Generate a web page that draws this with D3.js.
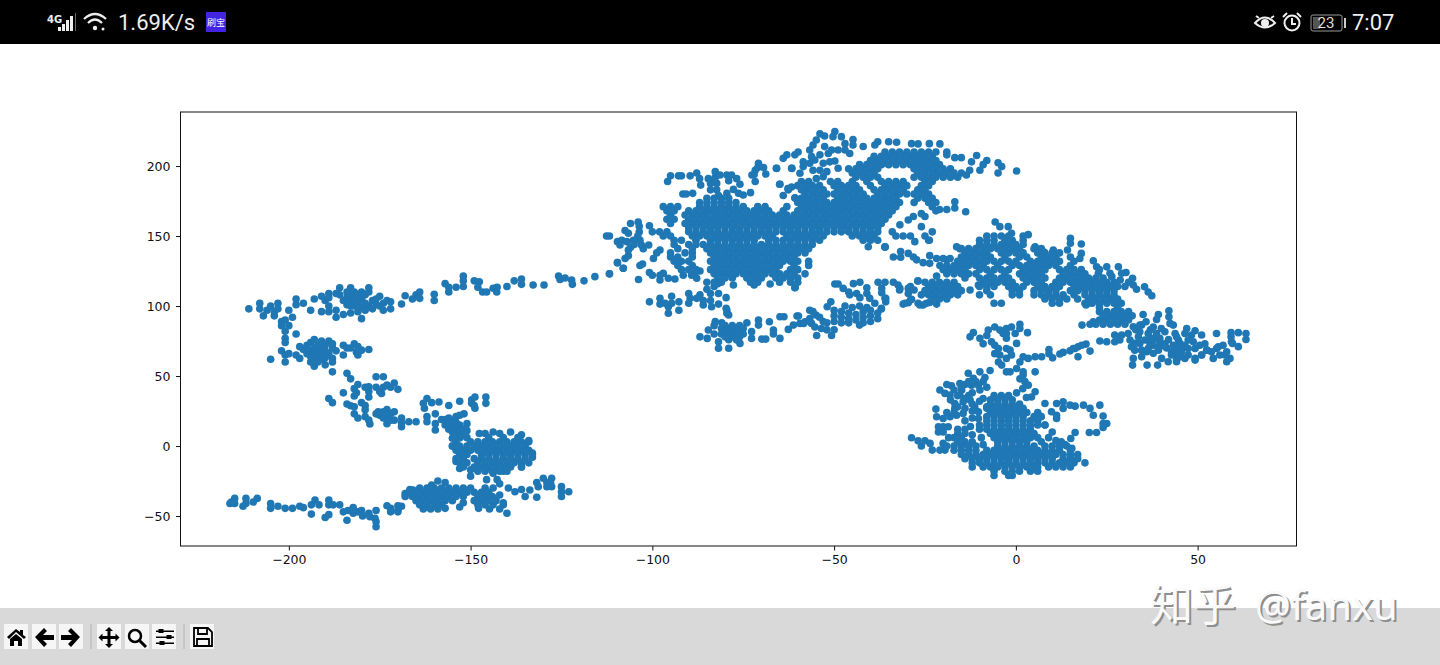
<!DOCTYPE html>
<html>
<head>
<meta charset="utf-8">
<script src="https://cdn.jsdelivr.net/npm/d3@7"></script>
<style>
  html, body { margin: 0; padding: 0; background: #fff; }
  svg { display: block; }
  text { font-family: "DejaVu Sans", sans-serif; }
</style>
</head>
<body>
<div id="chart"></div>
<script>
const xTicks = [-200, -150, -100, -50, 0, 50]
const yTicks = [-50, 0, 50, 100, 150, 200]

// scattered points, [x, y]
const leftTop = [[-211,98],[-208,102],[-208,98],[-207,93],[-206,97],[-205,100],[-204,96],[-204,93],[-203,102],[-203,98],[-200,97],[-199,92],[-201,90],[-202,89],[-200,86],[-202,86],[-201,82],[-198,80],[-201,77],[-201,74],[-198,105],[-198,101],[-196,102],[-194,97],[-193,105],[-191,107],[-191,96],[-190,104],[-189,109],[-189,106],[-189,100],[-189,96],[-187,109],[-187,97],[-187,92],[-186,113],[-185,94],[-183,95],[-183,113],[-178,113],[-175,107],[-180,91],[-181,96],[-186,108],[-185,104],[-184,110],[-184,106],[-184,101],[-183,108],[-183,103],[-182,110],[-182,105],[-182,100],[-181,108],[-181,102],[-180,110],[-180,105],[-180,99],[-179,108],[-179,102],[-178,110],[-178,100],[-177,104],[-176,101],[-175,100],[-174,102],[-174,97],[-173,104],[-172,98],[-172,103],[-179,97],[-177,98],[-176,105],[-181,105],[-183,100]]
const topStrand = [[-169,101.5],[-168,107.4],[-166,105],[-165,108],[-164,110],[-164,105.5],[-160,108.4],[-160,104],[-157,116],[-156,113.4],[-156,110],[-154,113.4],[-152,121.5],[-152,118],[-152,114],[-149,118],[-147.6,117.4],[-148,113.4],[-146.7,110],[-145.6,110],[-143.8,112.7],[-142.7,113.4],[-142.8,110],[-140,114],[-138,118],[-136,119.3],[-136,115.5],[-132.8,115],[-129.8,115],[-125.8,121.5],[-125.4,119],[-124,120],[-122.2,118.6],[-122,115.5],[-118.8,118],[-115.8,121],[-111.8,123],[-108,127],[-109.6,131]]
const leftMiddle = [[-205,62],[-202,68],[-201,65],[-201,60],[-200,66],[-198,65],[-197,62.6],[-197,71],[-193,57],[-190,58],[-188,53],[-188,62.6],[-188,60],[-187,68],[-185,72],[-185,65],[-184,70],[-182,73],[-181.4,67],[-181,65],[-180,68.5],[-178,69],[-183,70],[-181,71],[-196,69],[-195,66],[-195,72],[-194,60],[-194,64],[-194,68],[-194,74],[-193,62],[-193,66],[-193,70],[-193,76],[-192,60],[-192,64],[-192,68],[-192,72],[-191,62],[-191,66],[-191,70],[-191,75],[-190,63],[-190,68],[-190,72],[-189,75],[-189,66],[-188,70],[-188,73]]
const leftLower = [[-184,52],[-183,48],[-176,49.5],[-174,49.5],[-181,44],[-182,41],[-181.4,38],[-182,35.7],[-185,38],[-189,34],[-188,31],[-179,42],[-178,42.4],[-176,42],[-178,39],[-178,35],[-175,39],[-174,42],[-173,43.6],[-171,45],[-170,40.5],[-172,42],[-174.5,37.6],[-184,30],[-183,28.8],[-182,28],[-180,31],[-179,29],[-179,26],[-182,23],[-181,20],[-179,21],[-178,18.5],[-177.7,15.7],[-176,23],[-175.4,24.5],[-175,22],[-174,24.5],[-173,26],[-172.7,21],[-173,16],[-171,24.5],[-171,18.5],[-172,18.5],[-169,20],[-169,16.6],[-169,13.8],[-167,17.4],[-165,17.4],[-174,20],[-172,23]]
const midLeftCluster = [[-162,34],[-163,30.5],[-162.7,27],[-160.7,31],[-162,21],[-162,17.4],[-159.7,23],[-159.7,16],[-159.7,11.5],[-158.7,31.5],[-156,29],[-153,32],[-151.8,23],[-149.7,30.5],[-149.7,33],[-148.8,35],[-148.8,27],[-149,29],[-145.8,35],[-145.8,30.5],[-158,19],[-157,19],[-156,20],[-155,18],[-154,21],[-153,22],[-157,15],[-156,16],[-156,12],[-155,14],[-155,10],[-154,17],[-154,13],[-154,8],[-153,15],[-153,11],[-153,6],[-152,12],[-152,8],[-151,16],[-151,11],[-155,5.6],[-147.6,9],[-146,9],[-143.8,10],[-142,9],[-139,10],[-136,8],[-134,4],[-133,-5],[-133,-8],[-136,-15],[-141,-18],[-143.8,-19.5],[-150,-17],[-150,-21.5],[-153,-16],[-154,-11],[-155,0]]
const lowerStrand = [[-145.6,-24],[-142.7,-24],[-142,-27],[-143.8,-30],[-139.6,-30],[-137.8,-32.6],[-136,-31],[-133.7,-31.4],[-131.8,-26],[-130,-23],[-127.7,-23],[-129,-29],[-127.7,-29],[-129,-26],[-128,-26],[-131.4,-29],[-135,-36],[-131.8,-36.6],[-125,-29],[-125,-32.6],[-125,-36],[-123,-32.6],[-142,-35],[-141,-40.5],[-140,-48],[-157,-44.5],[-153,-43.5],[-152,-40.5],[-159,-25],[-157,-26],[-160.7,-27.8],[-147.8,-44.5],[-144.8,-45],[-142,-45],[-143.8,-42],[-172,-44.5],[-172,-47],[-170,-47],[-169,-43],[-168,-36],[-168,-34],[-166.7,-31],[-165.8,-31.5]]
const bottomLeft = [[-215.8,-40],[-214.9,-37.4],[-216.2,-41],[-214.9,-41],[-212.6,-43],[-211.8,-37.4],[-211.8,-41],[-209.8,-40],[-208.7,-37.4],[-205,-41],[-205,-44.5],[-203,-43],[-201,-44.5],[-199,-44.5],[-197,-43],[-196,-44],[-193.8,-42],[-193.8,-48.6],[-192.8,-38.6],[-191.7,-42],[-190,-51],[-189,-49],[-189,-38.6],[-189,-42],[-187.8,-42],[-186,-42],[-185,-47],[-184,-53],[-183.7,-46],[-182.3,-44],[-182.3,-48],[-180,-46],[-179.7,-50],[-177.7,-50.5],[-176,-46],[-176.3,-51.7],[-176,-57.6],[-176,-54],[-173,-42.6],[-170,-42.6],[-170,-46],[-181,-47],[-178,-48]]
const centerLeft = [[-112.6,150],[-111.8,150],[-111.8,123],[-109.6,131],[-108,127],[-107.5,134],[-106.6,136],[-103.8,119],[-103.4,129],[-102.7,130],[-100.8,124],[-100,122],[-99.7,134],[-97.9,140],[-98.8,138],[-106,159],[-103.9,160],[-100.8,157.4],[-107.5,154],[-106.6,152],[-103.6,157],[-103.6,153],[-109.6,146],[-108.4,147],[-107,146],[-105.2,147],[-108.9,143.6],[-106,142],[-103.4,147],[-103,143.6],[-102.5,141],[-101,143.6],[-106.6,140],[-104,150],[-105,144],[-95,193],[-95.8,189],[-92.8,193],[-92,193],[-89.6,193],[-87.8,195],[-87,191],[-86.7,186.4],[-91.6,180],[-90.7,180],[-88.9,180.5],[-84.6,191],[-82.7,196],[-82.7,192],[-81.4,193.6],[-79.5,193.6],[-78.2,193.6],[-76.8,191],[-75.9,187],[-79,189.5],[-84,187.6],[-82.3,187.6],[-82.3,183],[-81.8,179],[-77.7,183.3],[-76.3,180.5],[-75,179.3],[-73,181],[-79.5,180.5],[-84,183],[-83,190],[-71.7,197],[-70.8,202],[-69.4,199],[-68.8,194.3],[-72.6,193.6],[-71.7,189],[-65.8,198.3],[-61.6,198.3],[-64.9,187],[-64,179],[-62.6,183],[-61.7,185],[-60.7,177],[-72,194],[-71,199]]
const centerBelow = [[-97.9,122],[-97.9,118.6],[-97,123.3],[-95.6,119.8],[-93.8,119.3],[-91.5,122],[-89.2,122],[-88.3,123.3],[-87.8,119.8],[-86.9,125],[-90,109],[-89.6,105.5],[-90,102],[-87.8,105.5],[-86.9,108],[-86,104],[-84,109],[-81.8,109],[-86,100.7],[-83.7,99.5],[-81.8,101.4],[-79.7,106],[-79.7,98.4],[-79.5,94.8],[-84,104],[-85,112],[-83,114],[-85,117],[-82,116],[-100.8,103],[-97.9,105.5],[-94.7,107],[-97.9,101.4],[-96.5,102],[-95.6,99.5],[-95.6,94.8],[-94.7,102],[-92.7,103],[-92.7,97],[-77.7,115],[-72,115],[-67.6,115.7],[-60.7,113.4],[-58,123],[-57,129],[-60.8,113]]
const lowerArc = [[-82.7,89],[-80.9,88],[-79.5,97],[-79,93.6],[-74,88],[-70.8,90],[-70.8,86.4],[-67.8,88.8],[-64.9,92.4],[-63.8,92.4],[-60.2,92.9],[-59.8,92.9],[-86.9,78],[-84.6,82.9],[-84.9,76.9],[-81.8,74.5],[-81.8,69.8],[-79,69.8],[-75.9,73.3],[-76.8,75.7],[-72.7,81.7],[-72.7,76.9],[-69.9,76.4],[-68.8,76.4],[-66.7,82.9],[-66.7,80],[-64.9,76.9],[-62.6,83.3],[-61.2,86.4],[-59.4,87.6],[-58.4,87.6],[-58,88.8],[-81,84],[-81,80],[-80,86],[-80,82],[-80,78],[-79,84],[-79,80],[-79,76],[-78,86],[-78,82],[-78,78],[-77,84],[-77,80],[-76,86],[-76,82],[-76,78],[-75,84],[-75,80],[-83,86],[-83,80],[-56.7,97],[-55.8,96],[-55,93.6],[-56.7,91],[-56.2,87.6],[-55.3,85],[-54.8,79],[-53.5,84],[-53,89],[-52,83],[-50.7,79],[-50,83],[-51.9,99.5],[-50.9,103],[-43,86.4],[-37,97.9],[-38.8,102],[-50,89],[-50,93],[-50,97],[-48,88],[-48,92],[-48,96],[-47,100],[-46,88],[-46,91],[-46,95],[-45,99],[-44,90],[-44,94],[-43,100],[-42,88],[-42,92],[-42,96],[-41,99],[-40,89],[-40,93],[-40,97],[-38,91],[-38,95],[-54,92],[-52,88]]
const upperArc = [[-49.8,115.7],[-48.9,115.7],[-47.5,112.6],[-46,110],[-44.7,116],[-42.9,117],[-45.7,108],[-43.8,109],[-42.9,106],[-41,113],[-41,109],[-40.2,105.5],[-37.9,117],[-36,117],[-36.9,112.6],[-36.9,109.5],[-33.7,117],[-31.9,112.6],[-35.8,105.5],[-35.8,103],[-29.6,112.6],[-29.6,109],[-27,117.9],[-31,101.4],[-29.6,102.4],[-28.7,104.8],[-26.9,102],[-25.5,100.7],[-23.7,102.6],[-21.8,101.4],[-33.7,135],[-31.7,139],[-31.7,134.8],[-29.6,137.6],[-28.2,135],[-27.3,133],[-25.5,131],[-23.7,130.5],[-23.7,136],[-21.8,134],[-20,134],[-20.9,129],[-19,125.7],[-19,133],[-36,142],[-36,142.4],[-40.6,142.4],[-37,98.4],[-36,105.5],[-32.4,115],[-32,111.5],[-29,114],[-28,111.5],[-26.9,118],[-21.8,121.4],[-12.6,111.5],[-10.3,115],[-16.3,142.4],[-15.4,141],[-18.1,134],[-30.5,102],[-29,104.3],[-26.4,100.7],[-24.6,102]]
const topEdge = [[-53.9,223],[-52.6,221.5],[-49.8,224.6],[-50.3,221],[-48,221],[-44.8,219],[-44.8,215],[-42,214],[-47,216],[-38,217.4],[-38.8,215],[-35,217.4],[-32.8,217],[-28.7,216],[-26.9,215.8],[-23.8,216],[-20.9,215.8],[-19,210],[-19,208],[-16.8,206],[-15,206],[-10.8,207.5],[-8,204],[-4.9,202.4],[-3.9,199.6],[-4.9,195],[0.2,196.5],[-9.9,197],[-9,201],[-12.2,203],[-13.6,193.6],[-12.7,197],[-65.9,198.4],[-61.7,198.4],[-64,205.5],[-63,208],[-60.8,208],[-59.9,210],[-65,187],[-62.7,184],[-60.8,177.4],[-58.5,203],[-58.5,199.6],[-59.4,194.8],[-55.8,215],[-56.7,211.5],[-56.2,206.7],[-54.9,218.6],[-52.6,213.9],[-50.7,211.5],[-48.9,211.5],[-47,211.5],[-45.7,209],[-51.6,209],[-56.7,202],[-55.3,204.3],[-53.9,208],[-53,202],[-51.2,203],[-49.8,203.6],[-55.8,197],[-53.9,197],[-52,196],[-48.9,198.4],[-53,192.4],[-54.9,191],[-31.9,158],[-29.6,161.5],[-28.2,164],[-26,166],[-25,164],[-26,156.7],[-23,153],[-23.8,147],[-27.8,146],[-36,142.4],[-16.8,174.5],[-16.8,170],[-13.8,167.4],[-19,169],[-21,169]]
const bodyEdge = [[-5.7,160],[-4.4,156.7],[-2.1,156.7],[-1.2,152],[3.4,151],[15,148.4],[15,144.8],[18,144.3],[5.3,142.4],[7.6,138.8],[10.3,140],[14.2,140],[18,137.6],[17.6,134],[21.3,132.4],[22.2,128],[22.7,123.4],[25,128],[28.2,128],[30.3,124],[25.9,123.4],[26.4,121],[29.1,123.4],[28.7,118.6],[32.1,119.8],[32.3,115],[33.2,112],[35.4,113.8],[37.4,107.4],[36.4,110],[18.2,86.4],[20.4,87],[21.3,88.8],[19.4,101.4],[20.4,102.4],[19.3,100.7],[35,94],[39.2,94],[42.1,96.6],[42.1,92.4],[38.7,90.4],[35.8,88.8],[37.8,85],[34.1,86.4],[42.4,87.6],[43.3,86.4]]
const connector = [[23.1,75],[25,74.5],[27.2,74.5],[29.1,79.3],[27.2,79.3],[28.6,75.7],[13,66.9],[14.9,68],[15.8,69.7],[17.1,70.9],[17.1,63.8],[19.3,72.8],[20.4,67.8],[9.1,69],[9.1,66],[10.1,63],[12.1,65.7],[16.3,69.7],[18.1,72],[7.1,63.8],[5.3,63.8],[3.4,62.6],[2,63.8],[1.1,60]]
const rightEnd = [[47,84],[49.3,82.4],[51.1,79.3],[55.2,80.4],[59.2,81],[59.2,78],[61.2,81],[63.3,80.4],[63.3,76.1],[61.2,71],[59.6,73.3],[58.9,62.6],[58,67.4],[58,60.2],[56.1,65],[55.7,70.9],[54.3,62.6],[52.5,68.5],[51.1,65],[52,73],[49.3,61.4],[32.1,57.8],[36.1,57.8],[39,57.8],[41.9,60.2],[44.2,60.2]]
const rightCluster = [[32.3,85.2],[30.9,80.4],[31.4,75.7],[32.7,73.3],[34.1,81.6],[34.6,86.4],[36.4,80.4],[35.5,75.7],[34.1,73.3],[36.9,73.3],[38.2,76.9],[39.6,76.9],[41,81.6],[38.7,80.4],[37.8,72],[36,67.4],[34.6,68.5],[32.7,68.5],[32.3,62.6],[34.6,63.8],[37.8,66.2],[39.2,68.5],[40.1,62.6],[39.6,70.9],[43.8,80.4],[44.7,75.7],[46.5,80.4],[48.3,79.3],[47.4,75.7],[43.3,72],[44.7,70.9],[43.8,66.2],[45.6,67.4],[47.4,69.7],[49.3,69.7],[50.6,72],[42.8,65],[44.2,61.4],[46.5,62.6],[49.3,62.6],[51.1,65],[52.5,68.5],[53.8,67.4],[55.2,69.7],[57,72],[59.3,74.5],[57.5,65],[44.2,78],[45.1,73.3],[46,71],[45.1,63.8],[44.2,69.7],[42.8,67.4],[47.4,65],[46.5,72],[48.8,74.5],[39.6,74.5],[37.3,76.9],[36.4,69.7],[33.7,78],[31.8,70.9],[41,73],[41.5,70],[42,76],[33,83],[37,83],[40,84]]
const lowerTop = [[-12.6,78],[-11.7,81],[-9.9,77],[-9,73],[-8,79],[-7.6,82.8],[-6.7,74.5],[-5.8,85],[-4.4,82.8],[-3.5,80.4],[-2.6,84],[-2.6,80.4],[-1.2,85],[-0.2,80.4],[1.1,87],[1.1,84],[3.2,81],[-2.6,77],[-5.8,72],[-4.8,69.7],[-5.8,66],[-4.4,65],[-2.6,69.7],[0.2,73.3],[-1.6,68.5],[-1.2,65],[-2.6,62.6],[-4.8,60],[-3.9,57.8],[0.2,55.4],[-2.6,53],[-1.6,53],[5.3,53],[2,53],[1.1,48],[2.5,46],[3.4,43.5],[2,50.7],[0.2,38],[1.9,41],[5.3,38.8],[4.3,35],[2.9,34.7]]
const lowerLeftLobe = [[-7.1,54],[-8.5,49],[-9.9,53],[-13.1,52],[-11.7,48.3],[-9,46],[-10.3,43.5],[-12.2,43.5],[-14,44],[-15.4,44.7],[-14.9,40],[-17.7,43],[-18.1,36.4],[-19.5,37.6],[-20.9,40],[-9.9,40],[-9,34],[-12.6,32.8],[-15.4,36.4],[-16.8,30.4],[-14.5,31.6],[-16.8,26.9],[-14.5,23.3],[-16.3,22],[-18.1,20.9],[-22,26.4],[-21.8,20.9],[-20,19.7],[-11.3,28],[-10.3,24.5],[-10.3,19.7],[-8,28],[-20,13.8],[-21.3,13.8],[-21.3,10],[-20,10],[-18.6,13.8],[-28.7,5.9],[-26.9,3.8],[-26,0],[-25,3.8],[-23.6,1.9],[-23,-2.9],[-20.9,-2.9],[-20,1.9],[-19.5,-2.9],[-12,38],[-13,36],[-11,46],[-8,42],[-19,44],[-17,40],[-15,42],[-13,46],[-16,36],[-14,34],[-12,30],[-10,32],[-18,33],[-16,28],[-14,27],[-12,25],[-12,20],[-14,18],[-17,24],[-19,24],[-10,15],[-12.5,14],[-12,8],[-9.5,6],[-9,1],[-18.5,6],[-19,0]]
const lowerRightArm = [[8,30.4],[11.2,30.4],[13,31.6],[13,26.9],[9.8,24.5],[11.2,19.7],[11.2,22],[14.9,29.2],[16.3,28.5],[18.6,29.2],[20.4,26.9],[21.3,22],[23.1,29.2],[24,21.4],[24,16.1],[25,16.1],[24,13.3],[20.2,9.7],[22.2,9.7],[16.3,9.7],[15.1,5.4],[15.4,-1.7],[8,15],[6.6,21.4],[10,10],[11,4],[12.5,3],[13.5,1]]

// dense parts, one row per y: [y, x, x, x, ...]
const leftBlob = [
  [6,-153,-151,-145,-141,-137],
  [3,-154,-150,-148,-146,-144,-142,-140,-138,-136,-134],
  [0,-155,-153,-151,-149,-147,-145,-143,-141,-139,-137,-135],
  [-3,-154,-152,-150,-148,-146,-144,-142,-140,-138,-136,-134],
  [-6,-153,-151,-147,-145,-143,-141,-139,-137,-135,-133],
  [-9,-154,-152,-149,-147,-145,-143,-141,-139,-137,-135],
  [-12,-153,-151,-148,-146,-144,-142,-140,-138,-136,-134],
  [-15,-152,-149,-147,-145,-143,-141,-139,-136],
  [-18,-148,-146,-144,-142,-140]
]
const lowerLeftBlob = [
  [-30,-164,-162,-160,-158,-156,-154,-152,-150,-146],
  [-33,-167,-165,-163,-161,-159,-157,-155,-153,-151,-149,-147,-145],
  [-36,-166,-164,-162,-160,-158,-156,-154,-152,-148,-146,-144],
  [-39,-165,-163,-161,-159,-157,-155,-149,-147,-145,-143],
  [-42,-164,-162,-160,-158,-148,-146,-141],
  [-45,-163,-161,-159]
]
const mainMass = [
  [210,-36,-34,-32,-30,-28,-26,-24,-22],
  [207,-39,-37,-35,-33,-31,-29,-27,-25,-23],
  [204,-40,-38,-36,-34,-32,-30,-28,-26,-24,-22],
  [201,-43,-41,-39,-37,-35,-33,-31,-29,-27,-25,-23,-21],
  [198,-46,-44,-42,-40,-38,-28,-26,-24,-22,-20,-18],
  [195,-45,-43,-41,-39,-27,-25,-23,-21,-19,-17,-15],
  [192,-44,-42,-40,-38,-28,-26,-24,-22,-20,-18,-16],
  [189,-59,-57,-51,-49,-45,-41,-37,-35,-33,-31,-25,-23],
  [186,-60,-58,-56,-54,-50,-48,-46,-44,-40,-36,-34,-32,-30,-26,-24],
  [183,-59,-57,-55,-53,-49,-47,-45,-43,-39,-37,-35,-33,-31,-27,-25],
  [180,-58,-56,-54,-52,-50,-48,-46,-44,-42,-38,-36,-34,-32,-30,-28,-26,-24],
  [177,-85,-83,-81,-79,-59,-57,-55,-53,-49,-47,-45,-43,-41,-39,-37,-35,-33,-27,-25,-23],
  [174,-87,-85,-83,-81,-79,-77,-60,-58,-56,-54,-52,-50,-48,-46,-44,-42,-40,-38,-36,-34,-32,-28,-24,-22],
  [171,-97,-95,-93,-87,-85,-83,-81,-79,-77,-75,-71,-69,-63,-59,-57,-55,-53,-51,-49,-47,-45,-43,-41,-39,-37,-35,-33,-23],
  [168,-96,-94,-90,-88,-86,-84,-82,-80,-78,-76,-74,-72,-70,-68,-64,-60,-58,-56,-54,-52,-50,-48,-46,-44,-42,-40,-38,-36,-34,-22],
  [165,-95,-91,-89,-87,-85,-83,-81,-79,-77,-75,-73,-71,-69,-67,-65,-63,-61,-59,-57,-55,-53,-51,-49,-47,-45,-43,-41,-39,-37,-35],
  [162,-96,-94,-90,-88,-86,-84,-82,-80,-78,-76,-74,-72,-70,-68,-66,-64,-62,-60,-58,-56,-54,-52,-50,-48,-46,-44,-42,-40,-38,-36],
  [159,-95,-91,-89,-87,-85,-83,-81,-79,-77,-75,-73,-71,-69,-67,-65,-63,-61,-59,-57,-55,-53,-51,-49,-47,-45,-43,-41,-39,-37],
  [156,-90,-88,-86,-84,-82,-80,-78,-76,-74,-72,-70,-68,-66,-64,-62,-60,-58,-56,-54,-52,-50,-48,-46,-44,-42,-40,-38],
  [153,-100,-98,-96,-90,-88,-86,-84,-82,-80,-78,-76,-74,-72,-70,-68,-66,-64,-62,-60,-58,-56,-54,-52,-50,-48,-46,-44,-42,-40,-38,-34],
  [150,-97,-95,-89,-87,-85,-83,-81,-79,-77,-75,-73,-71,-69,-67,-63,-61,-59,-57,-55,-53,-45,-43,-41,-39,-33,-31,-29,-25],
  [147,-94,-92,-88,-84,-82,-80,-78,-76,-74,-72,-68,-66,-64,-62,-60,-58,-56,-54,-42,-40,-38,-24],
  [144,-94,-90,-88,-86,-84,-82,-80,-78,-76,-74,-72,-70,-68,-66,-64,-62,-60,-58,-56],
  [141,-93,-89,-85,-83,-81,-79,-77,-75,-73,-71,-69,-67,-65,-63,-61,-59,-57],
  [138,-95,-91,-89,-84,-82,-80,-78,-76,-74,-72,-70,-68,-66,-64,-62,-60,-58],
  [135,-95,-93,-89,-83,-81,-79,-77,-75,-73,-71,-69,-67,-65,-63,-61],
  [132,-94,-92,-90,-84,-82,-80,-78,-76,-74,-72,-70,-68,-66,-64,-62,-60,-57],
  [129,-93,-89,-83,-81,-79,-77,-75,-73,-71,-69,-67,-65,-61],
  [126,-92,-90,-88,-84,-82,-80,-78,-76,-74,-72,-70,-68,-66,-62,-60],
  [123,-83,-81,-79,-77,-75,-73,-71,-69,-67,-65,-63,-61],
  [120,-82,-80,-78,-74,-72,-70,-66,-64,-62,-60],
  [117,-83,-81,-73,-71,-65,-62,-60]
]
const rightBody = [
  [150,-8,-6,-4,-2,2],
  [147,-10,-8,-6,-3,-1,2],
  [144,-10,-8,-6,-4,-2,0,2],
  [141,-15,-13,-11,-9,-7,-5,-3,-1,1,5,7],
  [138,-14,-12,-10,-8,-4,-2,0,2,6,8,10,12],
  [135,-15,-13,-11,-9,-7,-3,1,3,7,9,11,15],
  [132,-16,-14,-12,-10,-8,-6,-4,-2,0,4,6,8,10,12,16],
  [129,-19,-17,-15,-13,-11,-9,-5,-1,1,3,5,7,9,11,15],
  [126,-20,-18,-16,-14,-10,-8,-6,-4,-2,2,4,6,8,12,14,16,18,23],
  [123,-19,-17,-15,-13,-11,-7,-3,1,3,5,7,13,15,17,19],
  [120,-14,-10,-8,-6,-4,-2,2,4,6,8,12,14,16,18,20,22,24],
  [117,-25,-23,-21,-19,-17,-9,-7,-5,-3,-1,3,5,7,11,13,15,17,19,21,23,25,27,31],
  [114,-24,-22,-20,-18,-16,-10,-8,-6,-2,0,2,6,8,10,12,16,18,20,22,24,26,28,30],
  [111,-25,-23,-21,-19,-17,-15,-8,-1,1,5,7,9,11,15,17,19,21,23,25,27],
  [108,-26,-24,-22,-20,-18,-16,-10,-7,-1,1,5,7,9,11,13,16,19,21,23,25,27],
  [105,-23,-21,-19,8,10,12,14,17,20,22,24,26,28],
  [102,-6,-4,10,12,19,21,23,25,27,29],
  [99,23,28],
  [96,23,25,27,29,31],
  [93,24,26,28,30,32],
  [90,23,25,27,29,31],
  [87,22,24,26,28,30]
]
const lowerMass = [
  [36,-6,-4,-2],
  [33,-7,-5,-3,-1],
  [30,-7,-5,-3,-1,1],
  [27,-8,-6,-4,-2,0,2],
  [24,-7,-5,-3,-1,1,3,6],
  [21,-8,-6,-4,-2,0,2,5,7],
  [18,-8,-6,-4,-2,0,2,4,6],
  [15,-8,-6,-4,-2,0,2,4,6,8],
  [12,-16,-14,-10,-8,-6,-4,-2,0,2,4],
  [9,-16,-14,-7,-5,-3,-1,1,3,5],
  [6,-17,-15,-6,-4,-2,0,2,4,6,9],
  [3,-16,-14,-12,-5,-3,-1,1,3,7],
  [0,-17,-15,-13,-11,-5,-3,-1,1,3,5,8,10,12,14],
  [-3,-17,-15,-13,-11,-8,-6,-4,-2,0,2,4,6,8,10,12,15],
  [-6,-15,-13,-11,-9,-7,-5,-3,-1,1,3,5,7,9,11,13,15,17],
  [-9,-14,-12,-10,-8,-6,-4,-2,0,2,4,6,8,10,13,15,17],
  [-12,-12,-10,-8,-6,-4,-2,0,2,4,6,8,10,12,14,16,19],
  [-15,-12,-9,-7,-5,-3,-1,1,3,5,6,9,11,13,15],
  [-18,-6,-3,-1,1,4,6],
  [-21,-6,-2,-1]
]

const scatterLists = [leftTop, topStrand, leftMiddle, leftLower, midLeftCluster, lowerStrand, bottomLeft, centerLeft, centerBelow, lowerArc, upperArc, topEdge, bodyEdge, connector, rightEnd, rightCluster, lowerTop, lowerLeftLobe, lowerRightArm]
const rowLists = [leftBlob, lowerLeftBlob, mainMass, rightBody, lowerMass]

const points = scatterLists.flat().concat(
    rowLists.flat().flatMap(([y, ...xs]) => xs.map(x => [x, y])))

const width = 1440, height = 665
const margin = { top: 112, right: 143.5, bottom: 119, left: 180.5 }

const svg = d3.select('#chart').append('svg').attr('width', width).attr('height', height)

const x = d3.scaleLinear().domain([-229.8, 77.2]).range([margin.left, width - margin.right])
const y = d3.scaleLinear().domain([-71.4, 238.6]).range([height - margin.bottom, margin.top])

svg.append('g').selectAll('circle').data(points).enter().append('circle')
    .attr('cx', d => x(d[0]))
    .attr('cy', d => y(d[1]))
    .attr('r', 3.8)
    .attr('fill', '#1f77b4')

svg.append('rect')
    .attr('x', margin.left).attr('y', margin.top)
    .attr('width', width - margin.left - margin.right)
    .attr('height', height - margin.top - margin.bottom)
    .attr('fill', 'none').attr('stroke', '#111').attr('stroke-width', 1)

const xAxis = svg.append('g').attr('transform', `translate(0,${height - margin.bottom})`)
    .call(d3.axisBottom(x).tickValues(xTicks).tickSize(4.5).tickPadding(4.5).tickSizeOuter(0))
const yAxis = svg.append('g').attr('transform', `translate(${margin.left},0)`)
    .call(d3.axisLeft(y).tickValues(yTicks).tickSize(4.5).tickPadding(5.5).tickSizeOuter(0))
for (const axis of [xAxis, yAxis]) {
    axis.select('.domain').remove()
    axis.selectAll('text').style('font-family', '"DejaVu Sans"').style('font-size', '12.5px').attr('fill', '#111')
    axis.selectAll('line').attr('stroke', '#111')
}

// phone status bar
svg.append('rect').attr('width', width).attr('height', 44).attr('fill', '#000')
const bar = svg.append('g').attr('fill', '#eee')
bar.append('text').attr('x', 47).attr('y', 23).attr('font-size', 10).attr('font-weight', 'bold').text('4G')
for (const [bx, bh] of [[58, 4], [62, 7], [66, 11], [70, 15]]) {
    bar.append('rect').attr('x', bx).attr('y', 31 - bh).attr('width', 3).attr('height', bh)
}
bar.append('rect').attr('x', 75).attr('y', 13).attr('width', 1).attr('height', 18).attr('fill', '#666')
const wifi = bar.append('g').attr('fill', 'none').attr('stroke', '#eee').attr('stroke-width', 2.2)
wifi.append('path').attr('d', 'M84,19 Q95,9 106,19')
wifi.append('path').attr('d', 'M88,23 Q95,16 102,23')
bar.append('circle').attr('cx', 95).attr('cy', 28).attr('r', 2.2)
bar.append('circle').attr('cx', 103).attr('cy', 29).attr('r', 1.5)
bar.append('text').attr('x', 118).attr('y', 30).style('font-family', 'Roboto').attr('font-size', 22).text('1.69K/s')
bar.append('rect').attr('x', 206).attr('y', 12).attr('width', 20).attr('height', 20).attr('fill', '#4324e0')
bar.append('text').attr('x', 216).attr('y', 25.5).attr('text-anchor', 'middle').style('font-family', '"Noto Sans CJK SC"').attr('font-size', 9).attr('fill', '#fff').text('刷宝')

const eye = bar.append('g').attr('fill', 'none').attr('stroke', '#eee').attr('stroke-width', 2)
eye.append('path').attr('d', 'M1255,23 Q1265,12 1275,23 Q1265,32 1255,23 Z')
eye.append('path').attr('d', 'M1256,16 L1259,18 M1274,16 L1271,18')
bar.append('circle').attr('cx', 1265).attr('cy', 23).attr('r', 4)
const clock = bar.append('g').attr('fill', 'none').attr('stroke', '#eee').attr('stroke-width', 2)
clock.append('circle').attr('cx', 1292).attr('cy', 23).attr('r', 7.5)
clock.append('path').attr('d', 'M1292,18 V24 H1296 M1283,17 L1287,13 M1301,17 L1297,13')
bar.append('rect').attr('x', 1311).attr('y', 15).attr('width', 31).attr('height', 16).attr('rx', 2).attr('fill', 'none').attr('stroke', '#999')
bar.append('rect').attr('x', 1313).attr('y', 17).attr('width', 7).attr('height', 12).attr('fill', '#555')
bar.append('rect').attr('x', 1344).attr('y', 18).attr('width', 2).attr('height', 10).attr('fill', '#ccc')
bar.append('text').attr('x', 1326).attr('y', 28).attr('text-anchor', 'middle').style('font-family', 'Roboto').attr('font-size', 15).attr('fill', '#ddd').text('23')
bar.append('text').attr('x', 1352).attr('y', 30).style('font-family', 'Roboto').attr('font-size', 22).text('7:07')

// matplotlib toolbar
svg.append('rect').attr('y', 608).attr('width', width).attr('height', 57).attr('fill', '#d9d9d9')
const buttons = [4, 32, 59, 97, 125, 152, 190]
svg.append('g').selectAll('rect').data(buttons).enter().append('rect')
    .attr('x', d => d).attr('y', 624).attr('width', 24).attr('height', 25).attr('fill', '#f6f6f6')
for (const sx of [90, 183]) {
    svg.append('rect').attr('x', sx).attr('y', 624).attr('width', 2).attr('height', 25).attr('fill', '#c6c6c6')
}
const icons = svg.append('g').attr('fill', '#000')
icons.append('path').attr('d', 'M7,637 L16,629 L20,632 L20,630 L23,630 L23,635 L26,637 L24,639 L16,632 L9,639 Z M10,639 L16,634 L22,639 L22,646 L18,646 L18,641 L14,641 L14,646 L10,646 Z')
icons.append('path').attr('d', 'M35,637 L44,628 L47,631 L43,635 L54,635 L54,640 L43,640 L47,644 L44,647 Z')
icons.append('path').attr('d', 'M80,637 L71,628 L68,631 L72,635 L61,635 L61,640 L72,640 L68,644 L71,647 Z')
icons.append('path').attr('d', 'M109,627 L113,631 L110.5,631 L110.5,636 L115.5,636 L115.5,633.5 L119.5,637.5 L115.5,641.5 L115.5,639 L110.5,639 L110.5,644 L113,644 L109,648 L105,644 L107.5,644 L107.5,639 L102.5,639 L102.5,641.5 L98.5,637.5 L102.5,633.5 L102.5,636 L107.5,636 L107.5,631 L105,631 Z')
icons.append('circle').attr('cx', 135).attr('cy', 636).attr('r', 6).attr('fill', 'none').attr('stroke', '#000').attr('stroke-width', 2.5)
icons.append('path').attr('d', 'M139,640 L146,647').attr('stroke', '#000').attr('stroke-width', 3)
for (const [ly, lx] of [[631, 161], [637, 169], [643, 162]]) {
    icons.append('rect').attr('x', 156).attr('y', ly - 0.5).attr('width', 18).attr('height', 1.5)
    icons.append('rect').attr('x', lx - 2.5).attr('y', ly - 2).attr('width', 5).attr('height', 4)
}
const disk = svg.append('g').attr('fill', 'none').attr('stroke', '#000').attr('stroke-width', 1.8)
disk.append('path').attr('d', 'M194,628 H208 L212,632 V646 H194 Z')
disk.append('path').attr('d', 'M198,628 V634 H207 V628 M197,646 V639 H209 V646')

// watermark
const mark = [
    { text: '知乎', x: 1150, y: 621, size: 43, font: '"Noto Sans CJK SC"' },
    { text: '@fanxu', x: 1255, y: 620, size: 40, font: '"Noto Sans"' }
]
for (const [dx, colour] of [[2, '#8f8f8f'], [0, '#fafafa']]) {
    svg.append('g').selectAll('text').data(mark).enter().append('text')
        .attr('x', d => d.x + dx).attr('y', d => d.y + dx)
        .style('font-family', d => d.font).attr('font-size', d => d.size)
        .attr('fill', colour).text(d => d.text)
}
</script>
</body>
</html>
